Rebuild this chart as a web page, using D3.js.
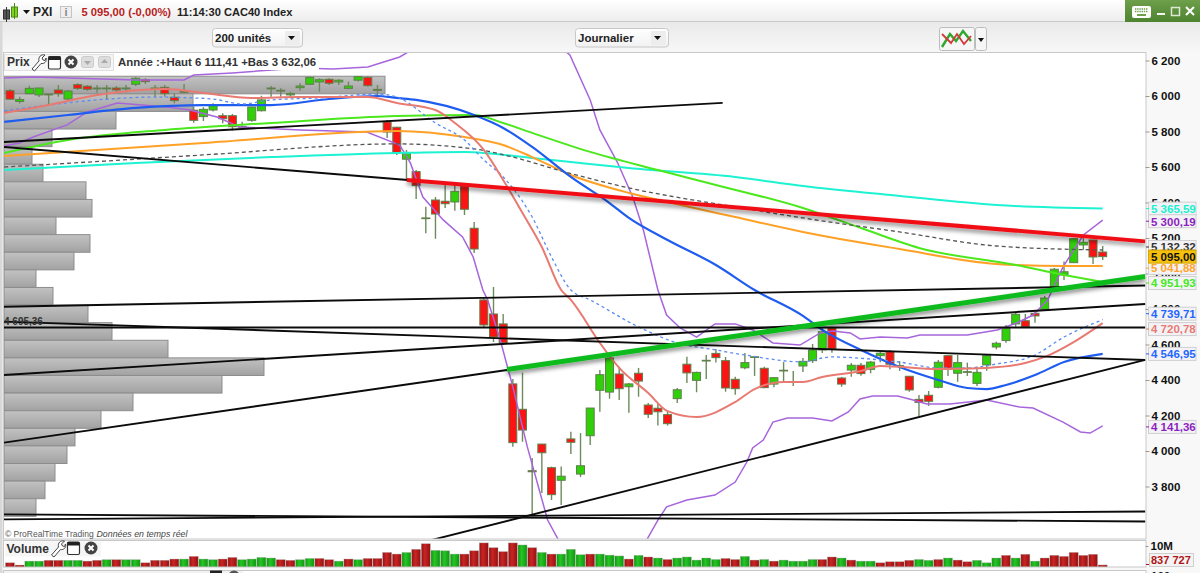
<!DOCTYPE html>
<html lang="fr">
<head>
<meta charset="utf-8">
<title>PXI - CAC40 Index</title>
<script src="https://cdn.jsdelivr.net/npm/d3@7"></script>
<style>
  html, body { margin: 0; padding: 0; background: #fff; overflow: hidden; }
  svg { display: block; }
  text { font-family: "Liberation Sans", Arial, sans-serif; }
</style>
</head>
<body>
<svg id="chart" width="1200" height="573"></svg>
<script>
// Daily candles, oldest first
const open = [6030,5969,6013,6006,6006,6034,5983,6064,6055,6045,6045,6045,6045,6066,6092,6038,6049,5993,6024,5920,5884,5921,5889,5889,5828,5863,5917,6045,6032,6006,6047,6066,6079,6094,6079,6043,6089,6105,6037,5854,5824,5644,5574,5313,5414,5407,5403,5493,5255,4851,4772,4716,4378,4235,3889,4039,3906,3835,4068,3870,4086,4342,4332,4434,4362,4438,4259,4241,4205,4295,4489,4398,4507,4550,4509,4404,4469,4527,4466,4377,4451,4391,4479,4509,4569,4693,4411,4456,4483,4460,4537,4560,4477,4421,4291,4314,4359,4537,4438,4443,4381,4485,4586,4622,4716,4734,4776,4798,4917,4992,5061,5161,5189,5121];
const high = [6040,5996,6058,6045,6011,6062,6034,6072,6062,6062,6062,6056,6062,6105,6100,6062,6062,6015,6068,5940,5936,5959,5903,5899,5855,5940,6002,6056,6043,6024,6072,6109,6100,6100,6094,6081,6111,6111,6062,5865,5827,5696,5583,5376,5431,5499,5499,5504,5290,4862,4924,4772,4406,4441,3961,4039,3912,3912,4109,4101,4242,4456,4531,4475,4383,4468,4270,4270,4221,4355,4531,4447,4541,4575,4530,4419,4552,4531,4475,4417,4501,4451,4524,4603,4693,4700,4417,4496,4496,4507,4560,4569,4507,4423,4316,4338,4513,4541,4541,4498,4475,4541,4616,4710,4778,4772,4785,4873,5031,5067,5200,5207,5189,5155];
const low = [5978,5958,6010,5995,5955,5996,5968,6034,6030,6019,5978,6023,6021,6056,6068,5995,5996,5959,6015,5850,5859,5912,5846,5805,5809,5855,5912,5996,5996,5993,6030,6062,6024,6062,6062,6038,6081,6053,5996,5764,5668,5527,5420,5227,5196,5369,5354,5330,5116,4693,4614,4597,4024,4052,3632.06,3763,3724,3696,3983,3854,4034,4221,4295,4287,4216,4306,4186,4143,4143,4270,4383,4331,4406,4498,4334,4317,4460,4423,4353,4359,4391,4366,4445,4496,4552,4554,4362,4419,4424,4438,4500,4460,4451,4334,4197,4254,4353,4423,4390,4423,4366,4452,4573,4610,4700,4697,4723,4789,4913,4963,5059,5132,5054,5076];
const close = [5982,5980,6043,6045,6011,6013,6028,6043,6038,6040,6040,6034,6040,6100,6081,6045,6013,5974,6021,5863,5925,5949,5872,5827,5824,5938,5978,6040,6028,6013,6056,6105,6092,6072,6089,6056,6109,6058,6032,5797,5681,5681,5495,5309,5335,5393,5463,5362,5138,4710,4642,4609,4047,4118,3883,3990,3754,3858,4049,3917,4242,4430,4524,4351,4378,4394,4207,4221,4154,4345,4440,4443,4511,4526,4355,4351,4498,4531,4357,4413,4455,4387,4505,4569,4672,4575,4377,4483,4436,4501,4551,4489,4481,4344,4274,4280,4500,4460,4498,4447,4443,4537,4607,4691,4770,4699,4761,4862,5024,5010,5196,5176,5093,5095];

// Daily volumes in millions, and whether each bar is shown as a rise (g) or a fall (r)
const volume = [1.9,0.8,2.7,2.7,3.1,3.1,3.1,3.1,2.7,3.1,3.4,3.4,3.4,3.4,1.9,3.1,3.1,3.7,3.7,5.0,3.7,3.4,3.7,4.5,3.4,3.7,4.5,4.2,3.4,3.1,3.4,4.0,4.0,3.4,2.7,3.7,3.4,4.0,4.0,6.9,6.1,6.9,8.4,11.1,7.9,7.7,6.1,6.1,7.7,11.5,9.2,7.3,11.5,10.5,9.2,6.9,6.1,6.1,8.4,5.8,6.1,6.1,5.6,5.2,3.7,5.5,4.7,4.2,3.5,4.2,4.7,3.2,4.2,3.5,4.0,3.5,5.0,3.2,3.5,2.7,3.2,2.7,2.7,3.5,3.5,4.7,4.2,3.2,2.7,2.7,1.9,2.4,2.4,3.1,3.5,3.1,3.5,4.2,3.2,2.4,3.1,1.9,4.2,5.5,4.2,6.0,2.7,4.2,5.5,5.0,6.9,5.5,6.0,0.84];
const volumeSide = "rrggrrggrrgrggrrrrgrggrrggggrrggrrgrgrrrrgrrgggrrrrrrgrgrgggrgggrgrgrgggggrrgrgrggggrrgrggrrrrggrgrrgggrgrgrr".padEnd(114, "r").split("");

// Moving averages and envelopes, as [candle index, price] readings
const emaGreen = [[-0.6,5679],[6,5752],[16,5809],[27,5848],[40,5887],[48,5893],[51,5848],[54,5792],[60,5685],[67,5583],[73,5499],[82,5369],[88,5256],[94,5144],[104,5048],[109,4992],[113,4951.93]];
const emaOrange = [[-0.6,5662],[20,5735],[40,5803],[47,5769],[51,5724],[54,5656],[58,5555],[64,5454],[68,5403],[75,5318],[82,5234],[92,5138],[102,5054],[109,5042],[113,5041.88]];
const emaCyan = [[-0.6,5583],[13,5623],[27,5656],[40,5679],[47,5685],[54,5651],[58,5628],[64,5594],[75,5544],[82,5493],[92,5437],[102,5386],[113,5365.59]];
const smaDashed = [[-0.6,5600],[10,5634],[20,5668],[40,5730],[48,5702],[52,5656],[57,5578],[64,5482],[75,5375],[82,5313],[92,5234],[102,5155],[113,5132.32]];
const blueSolid = [[-0.6,5854],[6,5893],[13,5933],[20,5949],[27,5949],[33,5983],[38,6000],[40,5989],[42,5978],[48,5893],[51,5820],[54,5713],[58,5544],[62,5397],[64,5313],[68,5189],[73,5048],[77,4907],[82,4761],[84,4682],[88,4569],[92,4473],[96,4400],[99,4355],[101,4349],[103,4372],[106,4428],[109,4501],[113,4546.95]];
const blueDashed = [[-0.6,5916],[4,5949],[9,5978],[15,5994],[19,5989],[21,5983],[24,5955],[27,5978],[32,5989],[38,6011],[40,5994],[44,5848],[47,5752],[49,5640],[51,5544],[54,5318],[56,5093],[58,4907],[60,4851],[65,4699],[69,4609],[73,4569],[76,4541],[82,4502],[84,4524],[85,4530],[89,4518],[92,4501],[96,4468],[99,4468],[102,4490],[106,4541],[109,4642],[113,4739.71]];
const salmonLine = [[-0.6,5904],[4,5949],[9,6006],[16,6040],[20,6017],[25,5989],[30,5994],[37,5994],[40,5961],[44,5921],[46,5848],[49,5696],[51,5527],[53,5341],[55,5149],[57,4907],[58,4851],[61,4609],[63,4468],[66,4327],[68,4225],[71,4192],[75,4276],[77,4349],[80,4389],[82,4389],[84,4417],[88,4451],[90,4479],[96,4462],[101,4468],[105,4496],[107,4530],[110,4614],[113,4720.78]];
const upperBand = [[-0.6,6102],[2.4,6107],[6,6102],[13,6090],[18,6090],[19,6118],[23,6130],[30,6158],[33.4,6152],[37,6163],[40.3,6220],[42.4,6287],[47.6,6372],[54.8,6372],[57.9,6231],[60,5978],[61,5809],[62.8,5628],[64.4,5431],[65.5,5245],[67,4907],[67.9,4766],[69.3,4693],[71,4642],[72.9,4716],[75,4716],[76.8,4682],[78.9,4609],[81.7,4597],[83.8,4665],[85.1,4676],[86.9,4665],[87.9,4631],[90,4642],[92.8,4637],[94.1,4654],[99,4654],[102.1,4682],[104.1,4721],[105.8,4766],[107.3,4851],[108.9,5037],[111,5217],[113,5300.19]];
const lowerBand = [[-0.6,5718],[1,5735],[2.4,5769],[5.9,5837],[8,5910],[11.1,5961],[16.2,5938],[18.6,5921],[21.4,5882],[23.8,5825],[30,5809],[36.9,5797],[40.3,5724],[41.4,5623],[42.7,5431],[44.8,5302],[46.8,5206],[47.9,5093],[48.9,4907],[49.4,4851],[50.7,4625],[52,4361],[53.5,4023],[55.6,3611],[58.4,3330],[64.1,3330],[67,3611],[67.9,3685],[70,3724],[72.9,3752],[75,3825],[76.2,3938],[76.8,4017],[77.9,4062],[78.9,4163],[80.4,4186],[83,4186],[85,4169],[86.7,4220],[87.9,4293],[89.2,4310],[91.8,4310],[93.4,4287],[94.8,4265],[97.2,4265],[101,4287],[104.4,4248],[105.8,4242],[108.9,4163],[110.7,4107],[111.7,4101],[113,4141.36]];

// Hand-drawn trend lines, as pairs of [candle index, price]
const blackLines = [
  [[-0.62,5741],[73.7,5961]],
  [[-0.62,5713],[42.4,5521]],
  [[-0.62,4813],[117.4,4932]],
  [[-0.62,4695.36],[117.4,4695.36]],
  [[-0.62,4729],[117.4,4513]],
  [[-0.62,4428],[117.4,4828]],
  [[-0.62,4047],[51.4,4456]],
  [[43.2,3493],[117.4,4513]],
  [[-0.62,3615],[117.4,3659]],
  [[-0.62,3643],[117.4,3603]]
];
const redLine = [[41.05,5527],[117.4,5181]];
const greenLine = [[51.4,4459],[117.4,4983]];

// Volume-by-price profile: 25 equal slices from the year's high down to its low
const yearHigh = 6111.41;
const yearLow = 3632.06;
const profile = [381,189,112,48,28,39,82,88,52,86,70,32,49,84,108,164,260,218,129,97,71,63,51,41,32];
const pocPrice = 4695.36;

// Axis ticks and last-value tags
const priceTicks = [6200,6000,5800,5600,5400,5200,5000,4800,4600,4400,4200,4000,3800];
const lastValues = [
  { value: 5365.59, color: "#19f2cf", shift: 0 },
  { value: 5300.19, color: "#8e1fc0", shift: 1 },
  { value: 5132.32, color: "#333333", shift: -3 },
  { value: 5041.88, color: "#ffa42e", shift: 2 },
  { value: 4951.93, color: "#46e81f", shift: 1 },
  { value: 4739.71, color: "#1f66ff", shift: -6 },
  { value: 4720.78, color: "#e87a72", shift: 6 },
  { value: 4546.95, color: "#1f66ff", shift: 0 },
  { value: 4141.36, color: "#8e1fc0", shift: 1 }
];
const lastPrice = 5095;
const lastVolume = 837727;

const fr = d3.formatLocale({ decimal: ",", thousands: " ", grouping: [3], currency: ["", ""] });
const fmt0 = fr.format(",.0f");
const fmt2 = fr.format(",.2f");

const svg = d3.select("#chart");
const defs = svg.append("defs");
const plot = { left: 4, right: 1145.5, top: 53, bottom: 538.5 };

const x = d3.scaleLinear().domain([0, 113]).range([10, 1102.7]);
const y = d3.scaleLinear().domain([3800, 6200]).range([486.5, 60.5]);
const yVol = d3.scaleLinear().domain([0, 10]).range([566.7, 546]);
const lineGen = d3.line().x(d => x(d[0])).y(d => y(d[1]));
const smoothGen = d3.line().x(d => x(d[0])).y(d => y(d[1])).curve(d3.curveMonotoneX);

function linearGradient(id, stops, vertical = true) {
  const g = defs.append("linearGradient").attr("id", id)
    .attr("x1", 0).attr("y1", 0).attr("x2", vertical ? 0 : 1).attr("y2", vertical ? 1 : 0);
  stops.forEach(([o, c]) => g.append("stop").attr("offset", o).attr("stop-color", c));
}
linearGradient("headerFill", [[0, "#ffffff"], [1, "#ececec"]]);
linearGradient("toolbarFill", [[0, "#e9e9e9"], [1, "#f8f8f8"]]);
linearGradient("profileFill", [[0, "#c2c2c2"], [1, "#a2a2a2"]]);
linearGradient("windowFill", [[0, "#6e9f4a"], [1, "#4d8330"]]);
linearGradient("volUp", [[0, "#0f960f"], [0.4, "#27c427"], [1, "#0f960f"]], false);
linearGradient("volDown", [[0, "#941111"], [0.4, "#c92525"], [1, "#941111"]], false);
linearGradient("selectFill", [[0, "#ffffff"], [1, "#f1f1f1"]]);
defs.append("clipPath").attr("id", "plotClip").append("rect")
  .attr("x", plot.left).attr("y", plot.top)
  .attr("width", plot.right - plot.left).attr("height", plot.bottom - plot.top);
const shadow = defs.append("filter").attr("id", "lineShadow")
  .attr("x", "-5%").attr("y", "-300%").attr("width", "110%").attr("height", "700%");
shadow.append("feDropShadow").attr("dx", 0).attr("dy", 3).attr("stdDeviation", 2)
  .attr("flood-color", "#000").attr("flood-opacity", 0.45);

/* ---------- window chrome ---------- */
const chrome = svg.append("g");
chrome.append("rect").attr("width", 1200).attr("height", 573).attr("fill", "#f8f8f8");
chrome.append("rect").attr("width", 1200).attr("height", 22).attr("fill", "url(#headerFill)");
chrome.append("line").attr("x1", 0).attr("x2", 1200).attr("y1", 21.5).attr("y2", 21.5).attr("stroke", "#c9c9c9");
chrome.append("rect").attr("y", 22).attr("width", 1200).attr("height", 31).attr("fill", "url(#toolbarFill)");
chrome.append("rect").attr("x", 0).attr("y", 22).attr("width", 2.5).attr("height", 551).attr("fill", "#d8d8d8");

// Candle glyph next to the instrument name
chrome.append("rect").attr("x", 3.5).attr("y", 10).attr("width", 6).attr("height", 9).attr("fill", "#555").attr("stroke", "#333");
chrome.append("line").attr("x1", 6.5).attr("x2", 6.5).attr("y1", 7).attr("y2", 22).attr("stroke", "#333");
chrome.append("rect").attr("x", 11.5).attr("y", 7).attr("width", 6).attr("height", 10).attr("fill", "#7ed321").attr("stroke", "#4b8a12");
chrome.append("line").attr("x1", 14.5).attr("x2", 14.5).attr("y1", 3).attr("y2", 19).attr("stroke", "#4b8a12");
chrome.append("path").attr("d", "M23 10h7l-3.5 4z").attr("fill", "#111");
chrome.append("text").attr("x", 33).attr("y", 15.5).attr("font-size", 12).attr("font-weight", 700).attr("fill", "#222").text("PXI");
chrome.append("rect").attr("x", 60.5).attr("y", 6.5).attr("width", 11).attr("height", 11).attr("fill", "#efefef").attr("stroke", "#c4c4c4");
chrome.append("text").attr("x", 66).attr("y", 16).attr("text-anchor", "middle").attr("font-size", 11).attr("font-weight", 700).attr("fill", "#888").text("i");
chrome.append("text").attr("x", 81.5).attr("y", 15.5).attr("font-size", 11.2).attr("font-weight", 700).attr("fill", "#b81e1e").text("5 095,00 (-0,00%)");
chrome.append("text").attr("x", 177).attr("y", 15.5).attr("font-size", 11.1).attr("font-weight", 700).attr("fill", "#222").text("11:14:30 CAC40 Index");

// Window buttons
chrome.append("rect").attr("x", 1125).attr("y", 0).attr("width", 75).attr("height", 22).attr("fill", "url(#windowFill)");
chrome.append("rect").attr("x", 1132).attr("y", 6).attr("width", 19).attr("height", 12).attr("rx", 2).attr("fill", "#fff");
chrome.append("path").attr("d", "M1135 9h13M1135 11.5h13").attr("stroke", "#6e9f4a").attr("stroke-width", 1.4).attr("stroke-dasharray", "1.4 .8");
chrome.append("rect").attr("x", 1137).attr("y", 14).attr("width", 9).attr("height", 2).attr("fill", "#6e9f4a");
chrome.append("rect").attr("x", 1157).attr("y", 13).attr("width", 8).attr("height", 2).attr("fill", "#f4f4f4");
chrome.append("rect").attr("x", 1171.5).attr("y", 7.5).attr("width", 8).attr("height", 8).attr("fill", "none").attr("stroke", "#dde8d4").attr("stroke-width", 1.5);
chrome.append("path").attr("d", "M1186 7l8 8M1194 7l-8 8").attr("stroke", "#fff").attr("stroke-width", 2);

// Toolbar selectors
function selector(left, width, label) {
  chrome.append("rect").attr("x", left + .5).attr("y", 28.5).attr("width", width).attr("height", 18.5).attr("rx", 3)
    .attr("fill", "url(#selectFill)").attr("stroke", "#c8c8c8");
  chrome.append("text").attr("x", left + 3).attr("y", 42).attr("font-size", 11.5).attr("font-weight", 700).attr("fill", "#222").text(label);
  chrome.append("rect").attr("x", left + width - 17).attr("y", 31).attr("width", 15).attr("height", 14).attr("fill", "#ededed");
  chrome.append("path").attr("d", `M${left + width - 14} 36h7l-3.5 4z`).attr("fill", "#111");
}
selector(212, 90, "200 unités");
selector(575, 93, "Journalier");
chrome.append("rect").attr("x", 939.5).attr("y", 27.5).attr("width", 35).attr("height", 23).attr("rx", 2).attr("fill", "#f6f6f6").attr("stroke", "#bdbdbd");
chrome.append("rect").attr("x", 975.5).attr("y", 27.5).attr("width", 11).attr("height", 23).attr("rx", 2).attr("fill", "#f6f6f6").attr("stroke", "#bdbdbd");
chrome.append("path").attr("d", "M978 38h6l-3 4z").attr("fill", "#111");
chrome.append("path").attr("d", "M942 47l8-13 6 7 7-10 8 10").attr("fill", "none").attr("stroke", "#2fa82f").attr("stroke-width", 2.4);
chrome.append("path").attr("d", "M942 34l9 9 6-9 7 10 7-8").attr("fill", "none").attr("stroke", "#d13a3a").attr("stroke-width", 1.8);

// Panels
chrome.append("rect").attr("x", 3.5).attr("y", plot.top - .5).attr("width", plot.right - 3).attr("height", plot.bottom - plot.top + 1)
  .attr("fill", "#fff").attr("stroke", "#c8c8c8");
chrome.append("rect").attr("x", 3.5).attr("y", 540.5).attr("width", plot.right - 3).attr("height", 26.5)
  .attr("fill", "#fff").attr("stroke", "#c8c8c8");
chrome.append("rect").attr("x", 3.5).attr("y", 570.5).attr("width", plot.right - 3).attr("height", 10)
  .attr("fill", "#fff").attr("stroke", "#c8c8c8");

/* ---------- price panel ---------- */
const price = svg.append("g").attr("clip-path", "url(#plotClip)");

// Horizontal volume profile
const profileX = d3.scaleLinear().domain([0, 381]).range([plot.left, 385]);
const sliceHeight = (yearHigh - yearLow) / profile.length;
price.append("g").selectAll("rect").data(profile).join("rect")
  .attr("x", profileX(0))
  .attr("y", (d, i) => y(yearHigh - i * sliceHeight))
  .attr("width", d => profileX(d) - profileX(0))
  .attr("height", (d, i) => y(yearHigh - (i + 1) * sliceHeight) - y(yearHigh - i * sliceHeight))
  .attr("fill", "url(#profileFill)")
  .attr("stroke", "#8d8d8d")
  .attr("stroke-width", 1);

// Candlesticks
const bodyWidth = 8;
const candles = price.append("g").selectAll("g").data(open.map((o, i) => ({ i, o, h: high[i], l: low[i], c: close[i] }))).join("g");
candles.append("line")
  .attr("x1", d => x(d.i)).attr("x2", d => x(d.i))
  .attr("y1", d => y(d.h)).attr("y2", d => y(d.l))
  .attr("stroke", "#6d8a5c").attr("stroke-width", 1.4);
candles.append("rect")
  .attr("x", d => x(d.i) - bodyWidth / 2)
  .attr("width", bodyWidth)
  .attr("y", d => y(Math.max(d.o, d.c)))
  .attr("height", d => Math.max(0.6, Math.abs(y(d.o) - y(d.c))))
  .attr("fill", d => d.c >= d.o ? "#2fd008" : "#fb1414")
  .attr("stroke", "#5f7f4c")
  .attr("stroke-width", 1);

// Indicator curves: averages are smooth, the envelopes keep their daily kinks
const curves = [
  [lowerBand, "#a765dc", 1.5, null, lineGen],
  [upperBand, "#a765dc", 1.5, null, lineGen],
  [emaCyan, "#1df2d2", 2, null, smoothGen],
  [emaOrange, "#ffa126", 2, null, smoothGen],
  [emaGreen, "#4be81e", 2, null, smoothGen],
  [smaDashed, "#555555", 1.3, "4 3", smoothGen],
  [blueSolid, "#1f5cf0", 2.2, null, smoothGen],
  [blueDashed, "#5b8cf2", 1.3, "3 3", smoothGen],
  [salmonLine, "#e87a72", 2, null, smoothGen]
];
price.append("g").selectAll("path").data(curves).join("path")
  .attr("d", d => d[4](d[0]))
  .attr("fill", "none")
  .attr("stroke", d => d[1])
  .attr("stroke-width", d => d[2])
  .attr("stroke-dasharray", d => d[3]);

// Trend lines
price.append("g").selectAll("path").data(blackLines).join("path")
  .attr("d", lineGen).attr("fill", "none").attr("stroke", "#0b0b0b").attr("stroke-width", 1.9);
price.append("path").attr("d", lineGen(redLine)).attr("stroke", "#f00d14").attr("stroke-width", 4)
  .attr("fill", "none").attr("filter", "url(#lineShadow)");
price.append("path").attr("d", lineGen(greenLine)).attr("stroke", "#0fbb1f").attr("stroke-width", 5)
  .attr("fill", "none").attr("filter", "url(#lineShadow)");

// Point-of-control label on the profile
svg.append("text").attr("x", 4).attr("y", 324.5).attr("font-size", 10).attr("font-weight", 700).attr("fill", "#333").text(fmt2(pocPrice));

/* ---------- panel headers ---------- */
function wrench(g, ox, oy) {
  g.append("path").attr("transform", `translate(${ox},${oy})`)
    .attr("d", "M1 15 L8 7 C7 3 10 0 14 1 L11 4 L12 6 L14 6.5 L15 4 C16 8 13 10 10 9.5 L3.5 17 Z")
    .attr("fill", "#fff").attr("stroke", "#444").attr("stroke-width", 1);
}
function panelIcon(g, ox, oy) {
  g.append("rect").attr("x", ox).attr("y", oy).attr("width", 12).attr("height", 12.5).attr("rx", 1.5).attr("fill", "#fff").attr("stroke", "#333").attr("stroke-width", 1.2);
  g.append("rect").attr("x", ox).attr("y", oy).attr("width", 12).attr("height", 3.5).attr("fill", "#222");
}
function closeIcon(g, cx, cy) {
  g.append("circle").attr("cx", cx).attr("cy", cy).attr("r", 6.5).attr("fill", "#444");
  g.append("path").attr("d", `M${cx - 2.5} ${cy - 2.5}l5 5M${cx + 2.5} ${cy - 2.5}l-5 5`).attr("stroke", "#fff").attr("stroke-width", 2);
}
const prixBar = svg.append("g");
prixBar.append("rect").attr("x", 4.5).attr("y", 54.5).attr("width", 109).attr("height", 16).attr("fill", "#f6f6f6").attr("stroke", "#e0e0e0");
prixBar.append("text").attr("x", 7).attr("y", 66).attr("font-size", 12).attr("font-weight", 700).attr("fill", "#333").text("Prix");
wrench(prixBar, 31, 54);
panelIcon(prixBar, 48.5, 56.5);
closeIcon(prixBar, 71, 62);
[81.5, 98.5].forEach((ox, k) => {
  prixBar.append("rect").attr("x", ox).attr("y", 56.5).attr("width", 12).attr("height", 11).attr("rx", 2).attr("fill", "#ddd").attr("stroke", "#ccc");
  prixBar.append("path").attr("d", k === 0 ? `M${ox + 6} 65l-3.5-4h7z` : `M${ox + 6} 59l-3.5 4h7z`).attr("fill", "#aaa");
});
prixBar.append("rect").attr("x", 114).attr("y", 54).attr("width", 205).attr("height", 16).attr("fill", "#fff");
prixBar.append("text").attr("x", 118).attr("y", 66).attr("font-size", 11.4).attr("font-weight", 700).attr("fill", "#333")
  .text(`Année :+Haut ${fmt2(yearHigh)} +Bas ${fmt2(yearLow)}`);

svg.append("text").attr("x", 5).attr("y", 536.5).attr("font-size", 8.5).attr("fill", "#555").text("© ProRealTime Trading");
svg.append("text").attr("x", 96.5).attr("y", 536.5).attr("font-size", 8.8).attr("font-style", "italic").attr("fill", "#444").text("Données en temps réel");

/* ---------- volume panel ---------- */
const volumes = svg.append("g");
volumes.selectAll("rect").data(volume).join("rect")
  .attr("x", (d, i) => x(i) - bodyWidth / 2 - 0.5)
  .attr("width", bodyWidth + 1)
  .attr("y", d => yVol(d))
  .attr("height", d => yVol(0) - yVol(d))
  .attr("fill", (d, i) => volumeSide[i] === "g" ? "url(#volUp)" : "url(#volDown)")
  .attr("stroke", "rgba(170,170,170,.55)")
  .attr("stroke-width", 0.6);
const volBar = svg.append("g");
volBar.append("rect").attr("x", 5).attr("y", 541.5).attr("width", 96).attr("height", 15).attr("fill", "#f6f6f6");
volBar.append("text").attr("x", 6.5).attr("y", 553).attr("font-size", 12).attr("font-weight", 700).attr("fill", "#333").text("Volume");
wrench(volBar, 50.5, 540);
panelIcon(volBar, 67.5, 542);
closeIcon(volBar, 91, 548);
// Toolbar of the next pane, mostly cut off by the window edge
const nextBar = svg.append("g");
nextBar.append("rect").attr("x", 4).attr("y", 571).attr("width", 239).attr("height", 3).attr("fill", "#f2f2f2");
nextBar.append("rect").attr("x", 210).attr("y", 570.5).attr("width", 12).attr("height", 3).attr("fill", "#222");
nextBar.append("circle").attr("cx", 234).attr("cy", 576).attr("r", 5.5).attr("fill", "#555");

/* ---------- right-hand axes ---------- */
const axis = d3.axisRight(y).tickValues(priceTicks).tickSize(4).tickPadding(2).tickFormat(fmt0);
const axisG = svg.append("g").attr("transform", `translate(${plot.right},0)`).call(axis);
axisG.select(".domain").remove();
axisG.selectAll("line").attr("stroke", "#999");
axisG.selectAll("text").attr("font-size", 11.5).attr("font-weight", 700).attr("fill", "#111").attr("font-family", "Liberation Sans, Arial, sans-serif");

const tags = svg.append("g");
const tagRows = tags.selectAll("g").data(lastValues).join("g")
  .attr("transform", d => `translate(0,${y(d.value) + d.shift})`);
tagRows.append("rect").attr("x", 1148.5).attr("y", -6.5).attr("width", 47.5).attr("height", 13)
  .attr("fill", "#f3f3f7").attr("stroke", "#cfcfcf");
tagRows.append("path").attr("d", "M1146 0h3").attr("stroke", d => d.color);
tagRows.append("text").attr("x", 1151).attr("y", 4.3).attr("font-size", 11.5).attr("font-weight", 700)
  .attr("fill", d => d.color).text(d => fmt2(d.value));

const lastTag = tags.append("g").attr("transform", `translate(0,${y(lastPrice)})`);
lastTag.append("rect").attr("x", 1148.5).attr("y", -6.5).attr("width", 47.5).attr("height", 13).attr("fill", "#f6c10c").attr("stroke", "#d8a800");
lastTag.append("text").attr("x", 1151).attr("y", 4.3).attr("font-size", 11.5).attr("font-weight", 700).attr("fill", "#111").text(fmt2(lastPrice));

const volAxis = d3.axisRight(yVol).tickValues([10]).tickSize(3).tickPadding(2).tickFormat(d => d + "M");
const volAxisG = svg.append("g").attr("transform", `translate(${plot.right},0)`).call(volAxis);
volAxisG.select(".domain").remove();
volAxisG.selectAll("line").attr("stroke", "#999");
volAxisG.selectAll("text").attr("font-size", 11.5).attr("font-weight", 700).attr("fill", "#111").attr("font-family", "Liberation Sans, Arial, sans-serif");
const volTag = svg.append("g");
volTag.append("rect").attr("x", 1149.5).attr("y", 553.5).attr("width", 44).attr("height", 13).attr("fill", "#f3f3f3").attr("stroke", "#cfcfcf");
volTag.append("text").attr("x", 1151).attr("y", 564).attr("font-size", 11).attr("font-weight", 700).attr("fill", "#b01515").text(fmt0(lastVolume));
volTag.append("path").attr("d", "M1146 564.5h3").attr("stroke", "#b01515");
svg.append("text").attr("x", 1151).attr("y", 580).attr("font-size", 11.5).attr("font-weight", 700).attr("fill", "#111").text("100");
</script>
</body>
</html>
